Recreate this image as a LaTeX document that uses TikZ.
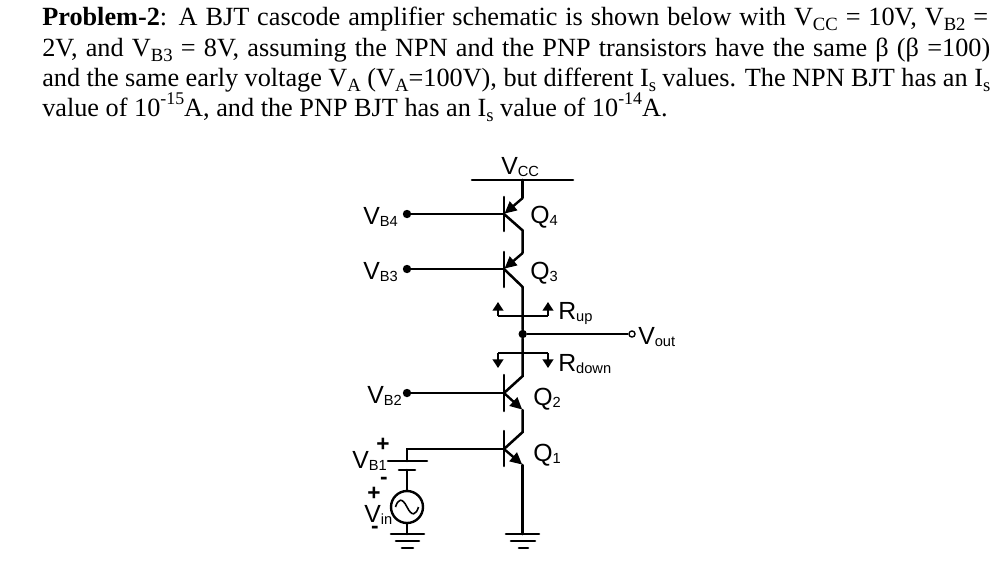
\documentclass[tikz,border=0pt]{standalone}
\usepackage{fontspec}
\setmainfont{Liberation Serif}
\newfontfamily\schemfont{Liberation Sans}
\usetikzlibrary{arrows.meta}
\newlength\pxu \pxu=0.75pt
\newcommand{\sbs}[1]{\raisebox{-0.1em}{\fontsize{11pt}{12pt}\selectfont #1}}
\newcommand{\tsb}[1]{\raisebox{-0.2em}{\fontsize{14pt}{15pt}\selectfont #1}}
\newcommand{\tsp}[1]{\raisebox{0.46em}{\fontsize{13.4pt}{15pt}\selectfont #1}}
\tikzset{
  wire/.style={line width=1.9pt,line cap=round},
  thinwire/.style={line width=1.6pt},
  emit/.style={line width=1.8pt,-{Stealth[length=9pt,width=8.5pt,inset=0pt]},shorten >=0.5pt},
  meas/.style={line width=1.5pt,-{Stealth[length=6.5pt,width=8pt,inset=0pt]}},
  lab/.style={font=\schemfont\fontsize{18.6pt}{20pt}\selectfont,inner sep=0pt,anchor=base west},
  sign/.style={font=\schemfont\bfseries\fontsize{17pt}{18pt}\selectfont,inner sep=0pt,anchor=center},
  para/.style={font=\fontsize{19.7pt}{22pt}\selectfont,inner sep=0pt,anchor=base west},
  pin/.style={circle,fill=black,inner sep=0pt,minimum size=6.3pt},
  openpin/.style={circle,draw=black,fill=white,line width=1pt,inner sep=0pt,minimum size=4.6pt},
  source/.style={circle,draw=black,line width=1.8pt,fill=none,inner sep=0pt,minimum size=24pt}
}
\begin{document}
\begin{tikzpicture}[x=0.75pt,y=-0.75pt]
\useasboundingbox (0,0) rectangle (992,576);
% text
\node[para] (l1) at (42,25.5) {\hbox to 946\pxu{\textbf{Problem-2}: A BJT cascode amplifier schematic is shown below with V\tsb{CC} = 10V, V\tsb{B2} =}};
\node[para] (l2) at (42,56) {\hbox to 948\pxu{2V, and V\tsb{B3} = 8V, assuming the NPN and the PNP transistors have the same β (β =100)}};
\node[para] (l3) at (42,86) {\hbox to 948\pxu{and the same early voltage V\tsb{A} (V\tsb{A}=100V), but different I\tsb{s} values. The NPN BJT has an I\tsb{s}}};
\node[para] (l4) at (42,116.5) {value of 10\tsp{-15}A, and the PNP BJT has an I\tsb{s} value of 10\tsp{-14}A.};
% supply
\coordinate (vccl) at (472,180); \coordinate (vccr) at (573,180); \coordinate (vcc) at (522.7,180);
\draw[wire] (vccl) -- (vccr);
% Q4
\coordinate (q4e) at (522.7,198); \coordinate (q4b) at (504,214); \coordinate (q4c) at (522.7,230.5);
\coordinate (q4t) at (504,197); \coordinate (q4u) at (504,231);
% Q3
\coordinate (q3e) at (522.7,253); \coordinate (q3b) at (504,269); \coordinate (q3c) at (522.7,287);
\coordinate (q3t) at (504,252); \coordinate (q3u) at (504,287);
% Q2
\coordinate (q2c) at (522.7,376); \coordinate (q2b) at (504,393); \coordinate (q2e) at (522.7,410);
\coordinate (q2t) at (504,375); \coordinate (q2u) at (504,411);
% Q1
\coordinate (q1c) at (522.7,432); \coordinate (q1b) at (504,449); \coordinate (q1e) at (522.7,465);
\coordinate (q1t) at (504,431); \coordinate (q1u) at (504,466);
\foreach \q in {q4,q3,q2,q1} \draw[wire] (\q t) -- (\q u);
\draw[wire] (vcc) -- (q4e);
\draw[emit] (q4e) -- (q4b);
\draw[wire] (q4b) -- (q4c) -- (q3e);
\draw[emit] (q3e) -- (q3b);
\draw[wire] (q3b) -- (q3c);
\node[pin] (out) at (522.7,334) {};
\draw[wire] (q3c) -- (out) -- (q2c) -- (q2b);
\draw[emit] (q2b) -- (q2e);
\draw[wire] (q2e) -- (q1c) -- (q1b);
\draw[emit] (q1b) -- (q1e);
% ground right
\coordinate (g1) at (522.7,534);
\draw[wire] (q1e) -- (g1);
\coordinate (g1al) at (506,534); \coordinate (g1ar) at (539,534);
\coordinate (g1bl) at (511,541); \coordinate (g1br) at (535,541);
\coordinate (g1cl) at (519,548); \coordinate (g1cr) at (528,548);
\draw[wire] (g1al) -- (g1ar) (g1bl) -- (g1br) (g1cl) -- (g1cr);
% bases
\node[pin] (vb4) at (407,214) {};
\node[pin] (vb3) at (407,269) {};
\node[pin] (vb2) at (407,393) {};
\draw[thinwire] (vb4) -- (q4b);
\draw[thinwire] (vb3) -- (q3b);
\draw[thinwire] (vb2) -- (q2b);
% VB1 + Vin
\coordinate (b1) at (407,449); \coordinate (bp) at (407,461); \coordinate (bn) at (407,470);
\coordinate (bpl) at (388,461); \coordinate (bpr) at (427,461);
\coordinate (bnl) at (399,470); \coordinate (bnr) at (415,470);
\draw[wire] (q1b) -- (b1) -- (bp);
\draw[wire] (bpl) -- (bpr);
\draw[wire] (bnl) -- (bnr);
\node[source] (vs) at (407,507) {};
\draw[wire] (bn) -- (vs);
\coordinate (g2) at (407,534);
\draw[wire] (vs) -- (g2);
\coordinate (g2al) at (391,534); \coordinate (g2ar) at (424,534);
\coordinate (g2bl) at (396,541); \coordinate (g2br) at (419,541);
\coordinate (g2cl) at (402,548); \coordinate (g2cr) at (413,548);
\draw[wire] (g2al) -- (g2ar) (g2bl) -- (g2br) (g2cl) -- (g2cr);
\draw[line width=1.2pt] (395.5,507) .. controls (398,499) and (402,497) .. (407,507) .. controls (412,517) and (416,515) .. (418.5,507);
% measurement arrows
\coordinate (rul) at (498,316); \coordinate (rur) at (548,316);
\coordinate (rua) at (498,302); \coordinate (rub) at (548,302);
\draw[meas] (rur) -- (rub);
\draw[meas] (rul) -- (rua);
\draw[line width=1.5pt] (rul) -- (rur);
\coordinate (rdl) at (498,353); \coordinate (rdr) at (548,353);
\coordinate (rda) at (498,368); \coordinate (rdb) at (548,368);
\draw[meas] (rdr) -- (rdb);
\draw[meas] (rdl) -- (rda);
\draw[line width=1.5pt] (rdl) -- (rdr);
% output
\node[openpin] (vo) at (632,334) {};
\draw[thinwire] (out) -- (vo);
% labels
\node[lab] (tvcc) at (501,174) {V\sbs{CC}};
\node[lab] (tvb4) at (363,224) {V\sbs{B4}};
\node[lab] (tvb3) at (363,279) {V\sbs{B3}};
\node[lab] (tvb2) at (367,403) {V\sbs{B2}};
\node[lab] (tvb1) at (352,468) {V\sbs{B1}};
\node[lab] (tvin) at (364,522) {V\sbs{in}};
\node[lab] (tq4) at (530,223) {Q\sbs{4}};
\node[lab] (tq3) at (530,279) {Q\sbs{3}};
\node[lab] (tq2) at (533,405) {Q\sbs{2}};
\node[lab] (tq1) at (533,461) {Q\sbs{1}};
\node[lab] (trup) at (558,319) {R\sbs{up}};
\node[lab] (trdn) at (558,371) {R\sbs{down}};
\node[lab] (tvout) at (638,344) {V\sbs{out}};
\node[sign] (p1) at (383,445) {+};
\node[sign] (m1) at (384,481) {-};
\node[sign] (p2) at (374,494) {+};
\node[sign] (m2) at (375,530) {-};
\end{tikzpicture}
\end{document}
